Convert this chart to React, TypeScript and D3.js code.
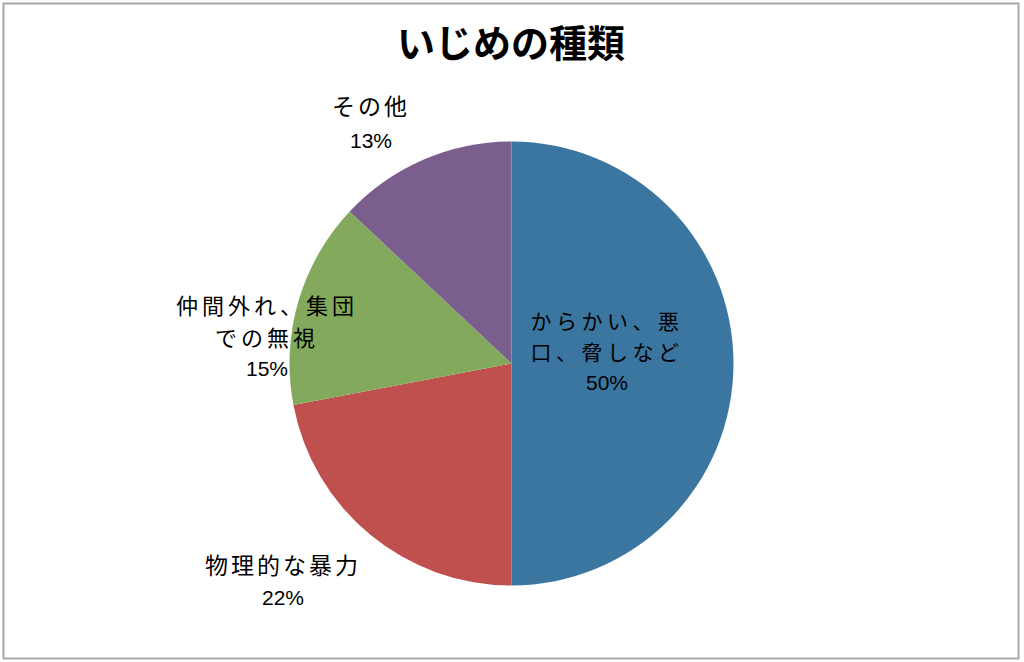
import React from "react";
import * as d3 from "d3";

const categories = ["からかい、悪口、脅しなど", "物理的な暴力", "仲間外れ、集団での無視", "その他"];
const values = [50, 22, 15, 13];
const percentLabels = ["50%", "22%", "15%", "13%"];
const labelLines = [
  ["からかい、悪", "口、脅しなど"],
  ["物理的な暴力"],
  ["仲間外れ、集団", "での無視"],
  ["その他"],
];
const colors = ["#3b76a0", "#c0504d", "#82a95c", "#7a5f8e"];

// label layout (center x, first-line center y, line gap, font size, letter spacing)
const labelLayout = [
  { x: 607, y: 320, gap: 31, fs: 21, ls: 4.5 },
  { x: 283, y: 564, gap: 33, fs: 23, ls: 3 },
  { x: 267, y: 304, gap: 32, fs: 22, ls: 4 },
  { x: 371, y: 105, gap: 35, fs: 23, ls: 3 },
];

const W = 1024;
const H = 662;
const cx = 511.5;
const cy = 363.5;
const R = 222;

export default function App() {
  const pie = d3.pie<number>().sort(null).startAngle(0).endAngle(2 * Math.PI)(values);
  const arc = d3.arc<d3.PieArcDatum<number>>().innerRadius(0).outerRadius(R);
  const font = "'Noto Sans CJK JP', 'Noto Sans', sans-serif";
  return (
    <svg
      width={W}
      height={H}
      style={{ position: "absolute", left: 0, top: 0, background: "#fff" }}
    >
      <rect x={0} y={0} width={W} height={H} fill="#fff" />
      <rect x={3.5} y={3.5} width={1015} height={655} fill="none" stroke="#a8a8a8" strokeWidth={2} />
      <text
        x={511}
        y={40}
        textAnchor="middle"
        dominantBaseline="central"
        fontFamily={font}
        fontWeight={700}
        fontSize={38}
        fill="#000"
      >
        いじめの種類
      </text>
      <g transform={`translate(${cx},${cy})`}>
        {pie.map((d, i) => (
          <path key={categories[i]} d={arc(d) || ""} fill={colors[i]} />
        ))}
      </g>
      {labelLines.map((lines, i) => {
        const L = labelLayout[i];
        return (
          <g key={i} fontFamily={font} fill="#000">
            {lines.map((t, j) => (
              <text
                key={j}
                x={L.x}
                y={L.y + j * L.gap}
                textAnchor="middle"
                dominantBaseline="central"
                fontSize={L.fs}
                letterSpacing={L.ls}
              >
                {t}
              </text>
            ))}
            <text
              x={L.x}
              y={L.y + lines.length * L.gap}
              textAnchor="middle"
              dominantBaseline="central"
              fontSize={21}
              fontFamily="'Liberation Sans', 'DejaVu Sans', sans-serif"
            >
              {percentLabels[i]}
            </text>
          </g>
        );
      })}
    </svg>
  );
}
